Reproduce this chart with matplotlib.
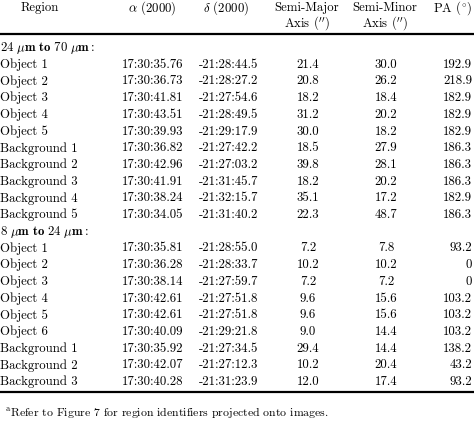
import matplotlib
matplotlib.use('Agg')
import matplotlib.pyplot as plt

plt.rcParams['font.family'] = ['cmr10']
plt.rcParams['mathtext.fontset'] = 'cm'
plt.rcParams['axes.unicode_minus'] = False

sections = [r'$\mathbf{24}\ \mu\mathbf{m\ to\ 70}\ \mu\mathbf{m:}$',
            r'$\mathbf{8}\ \mu\mathbf{m\ to\ 24}\ \mu\mathbf{m:}$']
names1 = ['Object 1', 'Object 2', 'Object 3', 'Object 4', 'Object 5',
          'Background 1', 'Background 2', 'Background 3', 'Background 4', 'Background 5']
ra1 = ['17:30:35.76', '17:30:36.73', '17:30:41.81', '17:30:43.51', '17:30:39.93',
       '17:30:36.82', '17:30:42.96', '17:30:41.91', '17:30:38.24', '17:30:34.05']
dec1 = ['-21:28:44.5', '-21:28:27.2', '-21:27:54.6', '-21:28:49.5', '-21:29:17.9',
        '-21:27:42.2', '-21:27:03.2', '-21:31:45.7', '-21:32:15.7', '-21:31:40.2']
smaj1 = ['21.4', '20.8', '18.2', '31.2', '30.0', '18.5', '39.8', '18.2', '35.1', '22.3']
smin1 = ['30.0', '26.2', '18.4', '20.2', '18.2', '27.9', '28.1', '20.2', '17.2', '48.7']
pa1 = ['192.9', '218.9', '182.9', '182.9', '182.9', '186.3', '186.3', '186.3', '182.9', '186.3']

names2 = ['Object 1', 'Object 2', 'Object 3', 'Object 4', 'Object 5', 'Object 6',
          'Background 1', 'Background 2', 'Background 3']
ra2 = ['17:30:35.81', '17:30:36.28', '17:30:38.14', '17:30:42.61', '17:30:42.61',
       '17:30:40.09', '17:30:35.92', '17:30:42.07', '17:30:40.28']
dec2 = ['-21:28:55.0', '-21:28:33.7', '-21:27:59.7', '-21:27:51.8', '-21:27:51.8',
        '-21:29:21.8', '-21:27:34.5', '-21:27:12.3', '-21:31:23.9']
smaj2 = ['7.2', '10.2', '7.2', '9.6', '9.6', '9.0', '29.4', '10.2', '12.0']
smin2 = ['7.8', '10.2', '7.2', '15.6', '15.6', '14.4', '14.4', '20.4', '17.4']
pa2 = ['93.2', '0', '0', '103.2', '103.2', '103.2', '138.2', '43.2', '93.2']

W, H = 474, 424
fig = plt.figure(figsize=(W / 100, H / 100), dpi=100)
ax = fig.add_axes([0, 0, 1, 1])
ax.set_xlim(0, W)
ax.set_ylim(H, 0)
ax.axis('off')
fs = 9.2

def t(x, y, s, ha='left', **kw):
    ax.text(x, y, s, ha=ha, va='center', fontsize=fs, **kw)

# header
t(40, 8, 'Region', ha='center')
t(152, 8, r'$\alpha$ (2000)', ha='center')
t(226, 8, r'$\delta$ (2000)', ha='center')
t(307, 8, 'Semi-Major', ha='center')
t(307, 23, r'Axis ($^{\prime\prime}$)', ha='center')
t(385, 8, 'Semi-Minor', ha='center')
t(385, 23, r'Axis ($^{\prime\prime}$)', ha='center')
t(452, 8, r'PA ($^{\circ}$)', ha='center')
ax.plot([0, W], [34, 34], color='black', lw=1.6)

dy = 16.7
y = 48
for sec, nm, ra, de, sa, sb, pa in [(sections[0], names1, ra1, dec1, smaj1, smin1, pa1),
                                    (sections[1], names2, ra2, dec2, smaj2, smin2, pa2)]:
    t(0, y, sec)
    y += dy
    for i in range(len(nm)):
        t(0, y, nm[i])
        t(183, y, ra[i], ha='right')
        t(258, y, de[i], ha='right')
        t(308, y, sa[i], ha='center')
        t(386, y, sb[i], ha='center')
        t(472, y, pa[i], ha='right')
        y += dy

ax.plot([0, W], [y - dy + 10, y - dy + 10], color='black', lw=1.6)
ax.text(5, 412, r'$^{\rm a}$Refer to Figure 7 for region identifiers projected onto images.',
        ha='left', va='center', fontsize=8.5)

fig.savefig('out.png', dpi=100)
